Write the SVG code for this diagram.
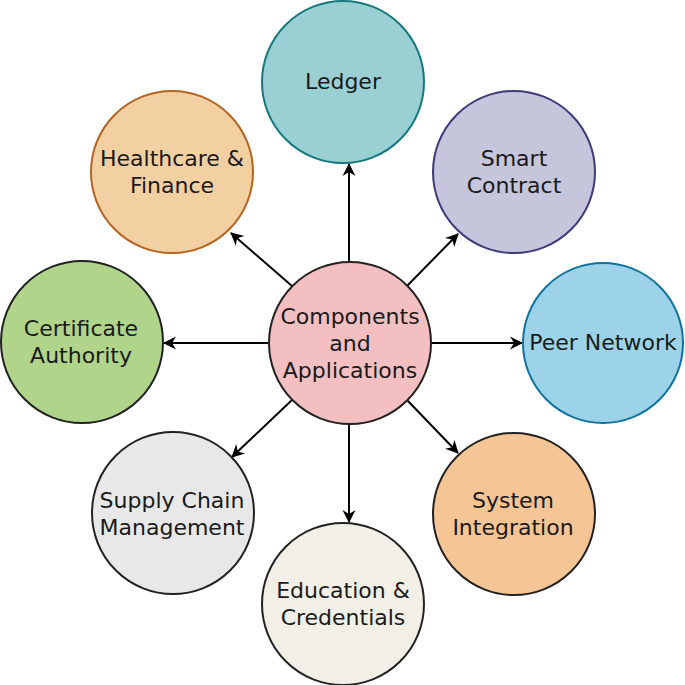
<svg xmlns="http://www.w3.org/2000/svg" width="685" height="685" viewBox="0 0 685 685">
<defs>
<marker id="arr" markerWidth="14" markerHeight="14" refX="12" refY="7" orient="auto" markerUnits="userSpaceOnUse">
<path d="M0,0.5 L13,7 L0,13.5 L4,7 Z" fill="#000"/>
</marker>
<style>
text{font-family:"DejaVu Sans",Verdana,sans-serif;font-size:22px;fill:#1a1a1a;text-anchor:middle}
circle{stroke-width:2}
.edge{stroke:#000;stroke-width:2;fill:none;marker-end:url(#arr)}
</style>
</defs>
<rect width="685" height="685" fill="#fff"/>
<g id="connectors">
<line class="edge" x1="349" y1="262" x2="349" y2="164"/>
<line class="edge" x1="349" y1="424" x2="349" y2="522"/>
<line class="edge" x1="431" y1="343" x2="522" y2="343"/>
<line class="edge" x1="269" y1="343" x2="164" y2="343"/>
<line class="edge" x1="407" y1="286" x2="458" y2="234"/>
<line class="edge" x1="407" y1="400" x2="458" y2="453"/>
<line class="edge" x1="292" y1="286" x2="231" y2="233"/>
<line class="edge" x1="292" y1="400" x2="232" y2="457"/>
</g>
<g id="center">
<circle cx="350" cy="343" r="81" fill="#f3bfc0" stroke="#222"/>
<text x="350" y="324">Components</text>
<text x="350" y="351">and</text>
<text x="350" y="378">Applications</text>
</g>
<g id="ledger">
<circle cx="343" cy="82" r="81" fill="#9ad0d3" stroke="#14787f"/>
<text x="343" y="89">Ledger</text>
</g>
<g id="smart-contract">
<circle cx="514" cy="172" r="81" fill="#c5c5dc" stroke="#3e3a78"/>
<text x="514" y="166">Smart</text>
<text x="514" y="193">Contract</text>
</g>
<g id="peer-network">
<circle cx="603" cy="343" r="80" fill="#9cd3e8" stroke="#10739e"/>
<text x="603" y="350">Peer Network</text>
</g>
<g id="system-integration">
<circle cx="514" cy="514" r="81" fill="#f5c596" stroke="#222"/>
<text x="513" y="508">System</text>
<text x="513" y="535">Integration</text>
</g>
<g id="education">
<circle cx="343" cy="604" r="81" fill="#f2f0e6" stroke="#222"/>
<text x="343" y="598">Education &amp;</text>
<text x="343" y="625">Credentials</text>
</g>
<g id="supply-chain">
<circle cx="173" cy="513" r="81" fill="#e8e8e8" stroke="#222"/>
<text x="172" y="508">Supply Chain</text>
<text x="172" y="535">Management</text>
</g>
<g id="certificate-authority">
<circle cx="82" cy="342" r="81" fill="#b0d58a" stroke="#222"/>
<text x="81" y="336">Certificate</text>
<text x="81" y="363">Authority</text>
</g>
<g id="healthcare-finance">
<circle cx="172" cy="172" r="81" fill="#f3d0a2" stroke="#b46420"/>
<text x="172" y="166">Healthcare &amp;</text>
<text x="172" y="193">Finance</text>
</g>
</svg>
